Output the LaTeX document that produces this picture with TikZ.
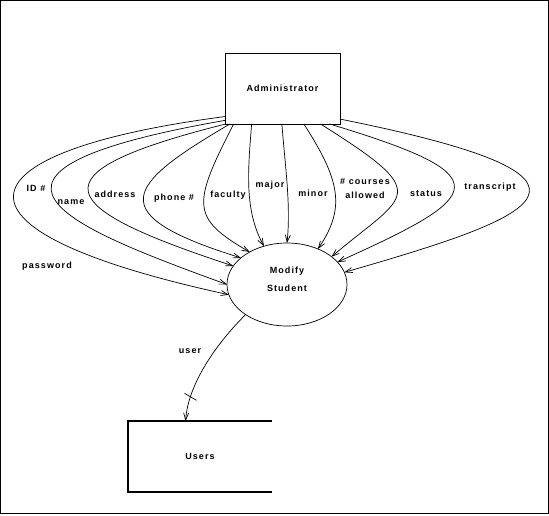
\documentclass[tikz,border=0pt]{standalone}
\usepackage{fontspec}
\newfontfamily\dfdfont[LetterSpace=12]{Liberation Sans}
\usetikzlibrary{arrows.meta,shapes.geometric,calc}

\begin{document}
\begin{tikzpicture}[x=1pt,y=-1pt,line width=0.7pt,
  lbl/.style={font=\dfdfont\bfseries\fontsize{9}{10}\selectfont,inner sep=0pt},
  flow/.style={-{Straight Barb[length=7pt,width=5pt]}}]
\useasboundingbox(0,0) rectangle (549,515);
\draw[line width=1pt](0.5,0.5) rectangle (548,513.5);
%
\node[draw,lbl,minimum width=115pt,minimum height=71pt,outer sep=0pt](admin) at (282.5,88.5){Administrator};
\node[draw,ellipse,lbl,align=center,text depth=11pt,minimum width=120pt,minimum height=83pt,outer sep=0pt](modify) at (287,284.5){Modify\\[8pt]Student};
\node[lbl,minimum width=144pt,minimum height=71pt,outer sep=0pt](users) at (200,456.5){Users};
\draw[line width=1.6pt](users.north east)--(users.north west)--(users.south west)--(users.south east);
%
\draw[flow](admin.206) .. controls (-32,150) and (-82,227) .. (modify.190);
\draw[flow](admin.209) .. controls (-70,172) and (66,226) .. (modify.180);
\draw[flow](admin.212) .. controls (26,174) and (57,208) .. (modify.161);
\draw[flow](admin.214) .. controls (126,185) and (100,214) .. (modify.150);
\draw[flow](admin.216) .. controls (192,205) and (191,218) .. (modify.139);
\draw[flow](admin.229) .. controls (248,170) and (244,210) .. (modify.121);
\draw[flow](admin.269) .. controls (285,165) and (291,205) .. (modify.90);
\draw[flow](admin.301) .. controls (340,180) and (346,208) .. (modify.49);
\draw[flow](admin.317) .. controls (435,196) and (407,193) .. (modify.32);
\draw[flow](admin.323) .. controls (502,176) and (487,195) .. (modify.24);
\draw[flow](admin.332) .. controls (639,179) and (540,216) .. (modify.12);
%
\node[lbl](password) at (47,266){password};
\node[lbl](id) at (36,188){ID \#};
\node[lbl](name) at (71,202){name};
\node[lbl](address) at (115,194){address};
\node[lbl](phone) at (174,198){phone \#};
\node[lbl](faculty) at (228,195){faculty};
\node[lbl](major) at (270,185){major};
\node[lbl](minor) at (313,193){minor};
\node[lbl,align=center](courses) at (365,188){\# courses\\[4pt]allowed};
\node[lbl](status) at (426,194){status};
\node[lbl](transcript) at (490,187){transcript};
%
\coordinate(usersin) at ($(users.north west)!0.4!(users.north east)$);
\draw[flow](modify.216) .. controls (215,345) and (188,385) .. coordinate[pos=0.78](tick) (usersin);
\draw($(tick)+(-6,-3.5)$)--($(tick)+(6,3.5)$);
\node[lbl](user) at (190,351){user};
\end{tikzpicture}
\end{document}
